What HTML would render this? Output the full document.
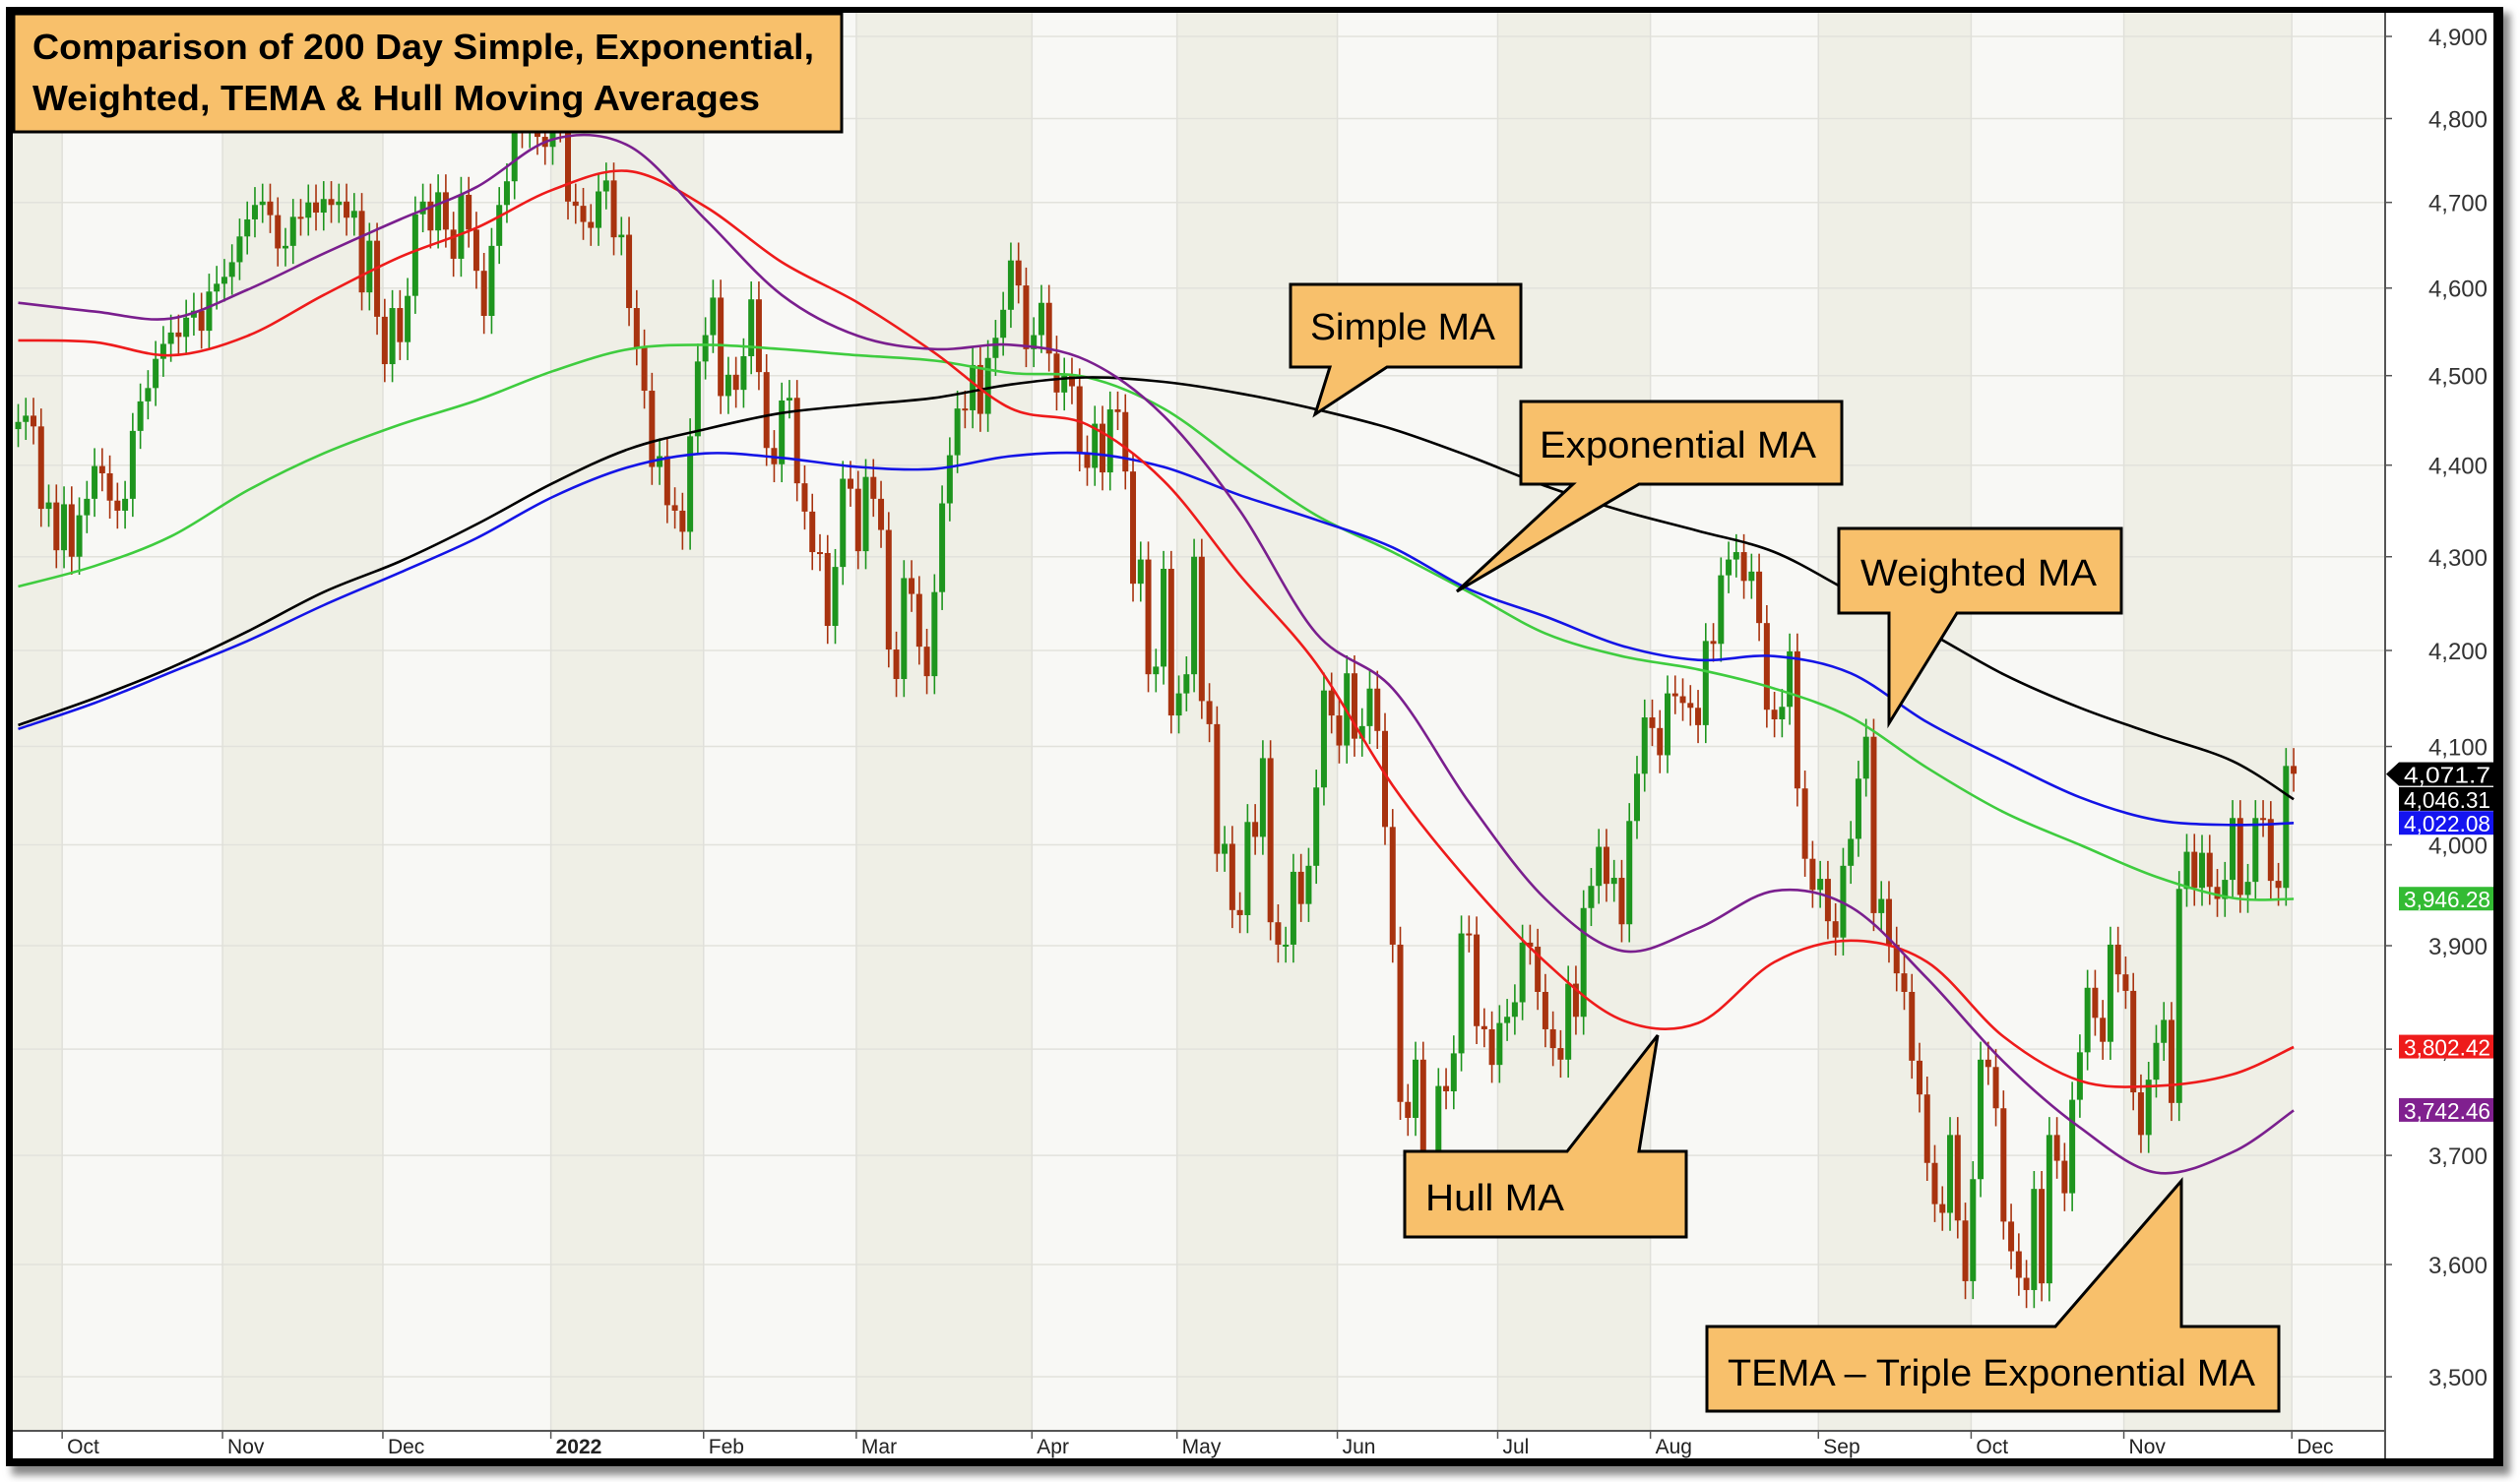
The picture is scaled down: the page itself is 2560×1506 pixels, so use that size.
<!DOCTYPE html>
<html><head><meta charset="utf-8">
<style>
html,body{margin:0;padding:0;background:#fff;}
svg{display:block;}
text{font-family:"Liberation Sans",Arial,sans-serif;}
</style></head>
<body>
<svg id="chart" width="2560" height="1506" viewBox="0 0 2560 1506" xmlns="http://www.w3.org/2000/svg">
  <defs>
    <filter id="sh" x="-5%" y="-5%" width="110%" height="110%"><feGaussianBlur stdDeviation="4"/></filter>
  </defs>
  <rect x="12" y="13" width="2538" height="1486" fill="#888" filter="url(#sh)"/>
  <rect x="6" y="7" width="2537" height="1483" fill="#000"/>
  <rect x="13" y="13" width="2520" height="1469" fill="#fff"/>
  <g id="bands"></g>
  <g id="grid"></g>
  <g id="candles"></g>
  <g id="mas"></g>
  <line x1="13" y1="1454" x2="2423" y2="1454" stroke="#555" stroke-width="2"/>
  <line x1="2423" y1="13" x2="2423" y2="1482" stroke="#555" stroke-width="2"/>
  <g id="xaxis"></g>
  <g id="yaxis"></g>
  <g id="vlabels"></g>

  <g>
    <rect x="14" y="14" width="841" height="120" fill="#f8c06b" stroke="#000" stroke-width="3"/>
    <text x="33" y="60" font-size="36" font-weight="bold" fill="#000" textLength="794" lengthAdjust="spacingAndGlyphs">Comparison of 200 Day Simple, Exponential,</text>
    <text x="33" y="112" font-size="36" font-weight="bold" fill="#000" textLength="739" lengthAdjust="spacingAndGlyphs">Weighted, TEMA &amp; Hull Moving Averages</text>
  </g>

  <g>
    <path d="M1311,289 H1545 V373 H1409 L1336,421 L1351,373 H1311 Z" fill="#f8c06b" stroke="#000" stroke-width="3" stroke-linejoin="miter"/>
    <text x="1331" y="345" font-size="38" fill="#000" textLength="188" lengthAdjust="spacingAndGlyphs">Simple MA</text>
  </g>
  <g>
    <path d="M1545,408 H1871 V492 H1665 L1480,601 L1598,492 H1545 Z" fill="#f8c06b" stroke="#000" stroke-width="3"/>
    <text x="1564" y="465" font-size="38" fill="#000" textLength="281" lengthAdjust="spacingAndGlyphs">Exponential MA</text>
  </g>
  <g>
    <path d="M1868,537 H2155 V623 H1988 L1919,735 L1919,623 H1868 Z" fill="#f8c06b" stroke="#000" stroke-width="3"/>
    <text x="1890" y="595" font-size="38" fill="#000" textLength="240" lengthAdjust="spacingAndGlyphs">Weighted MA</text>
  </g>
  <g>
    <path d="M1427,1170 H1592 L1684,1052 L1665,1170 H1713 V1257 H1427 Z" fill="#f8c06b" stroke="#000" stroke-width="3"/>
    <text x="1448" y="1230" font-size="38" fill="#000" textLength="141" lengthAdjust="spacingAndGlyphs">Hull MA</text>
  </g>
  <g>
    <path d="M1734,1348 H2088 L2216,1200 L2216,1348 H2315 V1434 H1734 Z" fill="#f8c06b" stroke="#000" stroke-width="3"/>
    <text x="1755" y="1408" font-size="38" fill="#000" textLength="536" lengthAdjust="spacingAndGlyphs">TEMA – Triple Exponential MA</text>
  </g>
</svg>
<script>
// ---------- data ----------
const closes = [4448,4455,4443,4352,4359,4307,
4357,4300,4345,4363,4399,4391,4361,4350,4363,4438,4471,4486,4519,4536,4549,4544,4566,4574,4551,4596,4605,
4613,4630,4660,4680,4697,4701,4685,4646,4649,4683,4682,4700,4688,4704,4697,4701,4682,4690,4595,4655,4567,
4513,4577,4538,4591,4686,4701,4667,4712,4668,4634,4709,4668,4620,4568,4649,4697,4725,4791,4786,4793,4778,4766,
4797,4793,4701,4696,4677,4670,4713,4726,4659,4662,4577,4532,4483,4398,4410,4356,4350,4327,4432,4516,
4546,4589,4477,4501,4484,4522,4587,4504,4419,4401,4472,4475,4380,4349,4305,4304,4226,4289,4385,4374,
4306,4387,4363,4329,4201,4170,4277,4260,4204,4173,4262,4358,4411,4463,4461,4512,4457,4520,4543,4575,4632,4603,4530,
4546,4583,4525,4481,4500,4488,4413,4397,4446,4392,4462,4459,4393,4271,4297,4175,4183,4287,4132,
4155,4175,4300,4147,4123,3991,4001,3935,3930,4023,4008,4088,3923,3901,3901,3973,3941,3979,4058,4158,4132,
4101,4176,4108,4121,4160,4116,4018,3901,3750,3735,3790,3667,3675,3765,3760,3796,3912,3911,3822,3819,3785,
3825,3831,3845,3903,3899,3855,3819,3801,3790,3863,3831,3937,3959,3998,3961,3967,3921,4024,4072,4130,
4119,4091,4155,4152,4145,4140,4122,4210,4207,4280,4297,4305,4274,4284,4229,4138,4128,4141,4199,4057,3986,3955,
3966,3924,3908,3979,4006,4067,4110,3932,3946,3901,3873,3855,3789,3757,3693,3655,3647,3719,3640,3585,
3678,3790,3783,3744,3639,3612,3588,3577,3669,3583,3719,3695,3665,3752,3797,3859,3830,3807,3901,3872,
3856,3759,3719,3771,3806,3828,3749,3956,3993,3957,3992,3958,3946,3965,4027,3950,3963,4027,4026,3964,3957,4080,
4072];
const firstOpen = 4440;
const monthLabels = ["Oct","Nov","Dec","2022","Feb","Mar","Apr","May","Jun","Jul","Aug","Sep","Oct","Nov","Dec"];
const monthStarts = [6,27,48,70,90,110,133,152,173,194,214,236,256,276,298];
const yTicks = [3500,3600,3700,3800,3900,4000,4100,4200,4300,4400,4500,4600,4700,4800,4900];
const maIndex = [0,10,20,30,40,50,60,70,80,90,100,110,120,130,140,150,160,170,180,190,200,210,220,230,240,250,260,270,280,290,298];
const smaValues = [4122,4150,4182,4220,4262,4295,4335,4380,4418,4440,4458,4467,4475,4490,4498,4493,4480,4462,4440,4410,4377,4350,4328,4305,4262,4220,4175,4140,4112,4085,4046];
const emaValues = [4118,4145,4177,4210,4248,4283,4320,4365,4398,4413,4408,4398,4396,4410,4413,4398,4367,4340,4310,4265,4236,4205,4190,4194,4176,4125,4085,4048,4025,4020,4022];
const wmaValues = [4268,4290,4322,4372,4413,4445,4472,4505,4530,4535,4530,4523,4517,4503,4498,4463,4402,4345,4305,4262,4218,4194,4180,4160,4130,4078,4033,4000,3968,3947,3946];
const hullValues = [4540,4538,4523,4545,4592,4636,4670,4715,4737,4695,4630,4583,4526,4463,4445,4383,4280,4186,4060,3963,3884,3828,3825,3884,3905,3884,3812,3770,3765,3776,3802];
const temaValues = [4583,4573,4565,4598,4640,4680,4718,4775,4767,4680,4592,4545,4530,4535,4517,4455,4350,4218,4160,4043,3946,3895,3917,3954,3938,3868,3788,3726,3684,3703,3742];
const valueLabels = ["4,071.7","4,046.31","4,022.08","3,946.28","3,802.42","3,742.46"];
const valueLevels = [4071.7,4046.31,4022.08,3946.28,3802.42,3742.46];

// ---------- scales ----------
const NS = "http://www.w3.org/2000/svg";
const PLOT_L = 13, PLOT_R = 2423, PLOT_T = 13, PLOT_B = 1454;
const X0 = 18.5, XSTEP = 7.757;
function xScale(i){ return X0 + i*XSTEP; }
function yScale(p){ return 37 + 4048*(Math.log(4900) - Math.log(p)); }
function mk(tag, attrs, parent){
  const e = document.createElementNS(NS, tag);
  for (const k in attrs) e.setAttribute(k, attrs[k]);
  parent.appendChild(e);
  return e;
}

// bands (alternate months shaded)
const bands = document.getElementById('bands');
const edges = [-2].concat(monthStarts).concat([closes.length + 3]);
for (let m = 0; m < edges.length - 1; m++) {
  const xa = Math.max(PLOT_L, xScale(edges[m]) - XSTEP/2 + 2);
  const xb = Math.min(PLOT_R, xScale(edges[m+1]) - XSTEP/2 + 2);
  const r = mk('rect', {x:xa, y:PLOT_T, width:Math.max(0,xb-xa), height:PLOT_B-PLOT_T, fill:(m%2===0)?'#efefe6':'#f8f8f5'}, bands);
  
  
}
{
  const xa = xScale(edges[edges.length-1]) - XSTEP/2 + 2;
  const r = mk('rect', {x:Math.min(xa,PLOT_R), y:PLOT_T, width:Math.max(0,PLOT_R-xa), height:PLOT_B-PLOT_T, fill:'#f8f8f5'}, bands);
  
  
}

// grid
const grid = document.getElementById('grid');
yTicks.forEach(t => {
  const l = mk('line', {x1:PLOT_L, x2:PLOT_R, y1:yScale(t), y2:yScale(t), stroke:'#e2e2dc', 'stroke-width':1.5}, grid);
  
  
});
monthStarts.forEach(ms => {
  const x = xScale(ms) - XSTEP/2 + 2;
  const l = mk('line', {x1:x, x2:x, y1:PLOT_T, y2:PLOT_B, stroke:'#e0e0da', 'stroke-width':1.5}, grid);
  
  
});

// candles
const cg = document.getElementById('candles');
const WICK = 0.0045;
for (let i = 0; i < closes.length; i++) {
  const o = i === 0 ? firstOpen : closes[i-1];
  const c = closes[i];
  const up = c >= o;
  const col = up ? '#1e951e' : '#a8330f';
  const hi = Math.max(o,c)*(1+WICK), lo = Math.min(o,c)*(1-WICK);
  const x = xScale(i);
  const g = mk('g', {}, cg);
  
  
  mk('line', {x1:x, x2:x, y1:yScale(hi), y2:yScale(lo), stroke:col, 'stroke-width':1.6}, g);
  const yt = yScale(Math.max(o,c)), yb = yScale(Math.min(o,c));
  mk('rect', {x:x-3, y:yt, width:6, height:Math.max(2, yb-yt), fill:col}, g);
}

// moving averages
const mg = document.getElementById('mas');
function spline(vals){
  const pts = vals.map((v,k) => [xScale(maIndex[k]), yScale(v)]);
  let d = 'M' + pts[0][0].toFixed(1) + ',' + pts[0][1].toFixed(1);
  for (let k = 0; k < pts.length - 1; k++) {
    const p0 = pts[Math.max(0,k-1)], p1 = pts[k], p2 = pts[k+1], p3 = pts[Math.min(pts.length-1,k+2)];
    const c1 = [p1[0] + (p2[0]-p0[0])/6, p1[1] + (p2[1]-p0[1])/6];
    const c2 = [p2[0] - (p3[0]-p1[0])/6, p2[1] - (p3[1]-p1[1])/6];
    d += ' C' + c1[0].toFixed(1)+','+c1[1].toFixed(1)+' '+c2[0].toFixed(1)+','+c2[1].toFixed(1)+' '+p2[0].toFixed(1)+','+p2[1].toFixed(1);
  }
  return d;
}
const series = [
  ['wma-line', wmaValues, '#3fcc3f'],
  ['sma-line', smaValues, '#000000'],
  ['ema-line', emaValues, '#1414e6'],
  ['hull-line', hullValues, '#ee1b1b'],
  ['tema-line', temaValues, '#7a1f8e']
];
series.forEach(s => {
  const p = mk('path', {d:spline(s[1]), fill:'none', stroke:s[2], 'stroke-width':2.6}, mg);
  
  
});

// x axis labels
const xa = document.getElementById('xaxis');
monthStarts.forEach((ms, k) => {
  const x = xScale(ms) - XSTEP/2 + 2;
  const tk = mk('line', {x1:x, x2:x, y1:PLOT_B, y2:PLOT_B+8, stroke:'#555', 'stroke-width':1.5}, xa);
  
  
  const t = mk('text', {x:x+5, y:1477, 'font-size':21, fill:'#222', 'font-weight': monthLabels[k]==='2022'?'bold':'normal'}, xa);
  
  
  t.textContent = monthLabels[k];
});

// y axis labels
const ya = document.getElementById('yaxis');
yTicks.forEach(tv => {
  const y = yScale(tv);
  const tk = mk('line', {x1:PLOT_R, x2:PLOT_R+7, y1:y, y2:y, stroke:'#555', 'stroke-width':1.5}, ya);
  
  
  const t = mk('text', {x:2527, y:y+9, 'font-size':24, fill:'#333', 'text-anchor':'end'}, ya);
  
  
  t.textContent = tv.toLocaleString('en-US');
});

// value labels
const vl = document.getElementById('vlabels');
const vcolors = ['#000','#000','#1414f0','#33bb33','#ee1b1b','#80208f'];
valueLabels.forEach((lab, k) => {
  const y = yScale(valueLevels[k]);
  const g = mk('g', {}, vl);
  
  
  if (k === 0) mk('path', {d:`M2424,${y} L2437,${y-12} L2437,${y+12} Z`, fill:'#000'}, g);
  mk('rect', {x:2437, y:y-12, width:96, height:24, fill:vcolors[k]}, g);
  const t = mk('text', {x:2530, y:y+9, 'font-size':23, fill:'#fff', 'text-anchor':'end', textLength:88, lengthAdjust:'spacingAndGlyphs'}, g);
  t.textContent = lab;
});
</script>
</body></html>
